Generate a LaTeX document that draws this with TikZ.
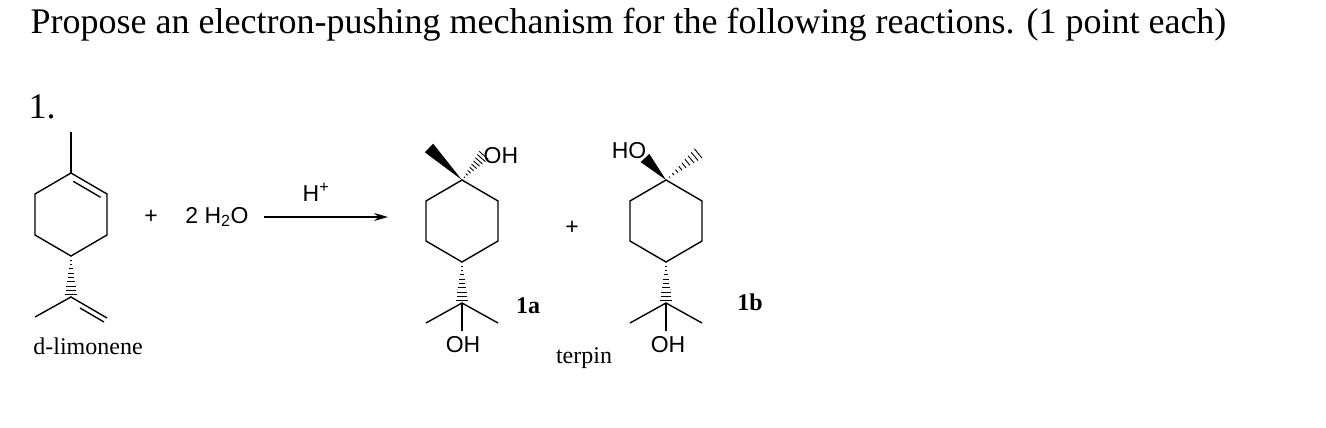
\documentclass[tikz,border=0pt]{standalone}
\usepackage{fontspec}
\setmainfont{Liberation Serif}
\newfontfamily\arialf{Liberation Sans}
\usetikzlibrary{calc,arrows.meta}
\newcommand{\hashbond}[3]{% from, to, halfwidth max
  \foreach \i in {1,...,9}{
    \draw[line width=0.9pt] ($(#1)!\i/9.5!(#2)!{#3pt*\i/9}!90:(#2)$) -- ($(#1)!\i/9.5!(#2)!{#3pt*\i/9}!-90:(#2)$);
  }}
\newcommand{\wedgebond}[3]{%
  \fill ($(#2)!#3!90:(#1)$) -- (#1) -- ($(#2)!#3!-90:(#1)$) -- cycle;}
\begin{document}
\begin{tikzpicture}[x=1pt,y=-1pt,line width=1.4pt,
  lab/.style={font=\arialf\fontsize{23}{26}\selectfont,inner sep=0pt},
  ser/.style={font=\fontsize{24}{27}\selectfont,inner sep=0pt},
  bnum/.style={font=\bfseries\fontsize{24}{27}\selectfont,inner sep=0pt}]
\useasboundingbox (0,0) rectangle (1326,428);
\node[anchor=base west,inner sep=0pt,font=\fontsize{36}{40}\selectfont] (title) at (30,34) {Propose an electron-pushing mechanism for the following reactions. (1 point each)};
\node[anchor=base west,inner sep=0pt,font=\fontsize{36}{40}\selectfont] (num) at (28,118) {1.};
% limonene
\coordinate (a1) at (71,173); \coordinate (a2) at (107,194); \coordinate (a3) at (107,235);
\coordinate (a4) at (71,256); \coordinate (a5) at (35,235); \coordinate (a6) at (35,194);
\coordinate (am) at (71,132); \coordinate (ai) at (71,297);
\coordinate (aim) at (35,317); \coordinate (aic) at (107,318);
\coordinate (d1) at (73.4,181.4); \coordinate (d2) at (100.6,197.3);
\draw (am)--(a1);
\draw (a1)--(a2)--(a3)--(a4)--(a5)--(a6)--cycle;
\draw (d1) -- (d2);
\hashbond{a4}{ai}{6}
\draw (aim)--(ai)--(aic);
\coordinate (e1) at (80,308); \coordinate (e2) at (104,322);
\draw (e1) -- (e2);
\node[ser] (limo) at (88,346) {d-limonene};
\node[lab] (plus1) at (151,217) {+};
\node[lab] (water) at (217,217) {2 H\textsubscript{2}O};
\coordinate (arA) at (264,217); \coordinate (arB) at (388,217);
\draw[-{Stealth[length=14pt,width=8pt]},line width=1.2pt] (arA) -- (arB);
\node[lab] (hplus) at (316,192) {H\textsuperscript{+}};
% 1a and 1b
\foreach \cx/\nm in {462/A,666/B}{
  \coordinate (\nm1) at (\cx,180); \coordinate (\nm2) at (\cx+36,201); \coordinate (\nm3) at (\cx+36,241);
  \coordinate (\nm4) at (\cx,262); \coordinate (\nm5) at (\cx-36,241); \coordinate (\nm6) at (\cx-36,201);
  \draw (\nm1)--(\nm2)--(\nm3)--(\nm4)--(\nm5)--(\nm6)--cycle;
  \coordinate (\nm i) at (\cx,303);
  \hashbond{\nm4}{\nm i}{6}
  \coordinate (\nm l) at (\cx-36,323); \coordinate (\nm r) at (\cx+36,323); \coordinate (\nm o) at (\cx,331);
  \draw (\nm l)--(\nm i)--(\nm r); \draw (\nm i)--(\nm o);
}
\coordinate (Aw) at (429,148); \coordinate (Ah) at (485,154);
\wedgebond{A1}{Aw}{6pt}
\hashbond{A1}{Ah}{6}
\node[lab,anchor=west] (Aoh) at (483,156) {OH};
\node[lab] (Aoh2) at (463,345) {OH};
\coordinate (Bw) at (645,158); \coordinate (Bh) at (700,152);
\wedgebond{B1}{Bw}{6pt}
\hashbond{B1}{Bh}{6}
\node[lab] (Boh) at (629,151) {HO};
\node[lab] (Boh2) at (668,345) {OH};
\node[bnum] (la) at (528,306) {1a};
\node[bnum] (lb) at (750,302) {1b};
\node[lab] (plus2) at (572,228) {+};
\node[ser] (terpin) at (584,358) {terpin};
\end{tikzpicture}
\end{document}
